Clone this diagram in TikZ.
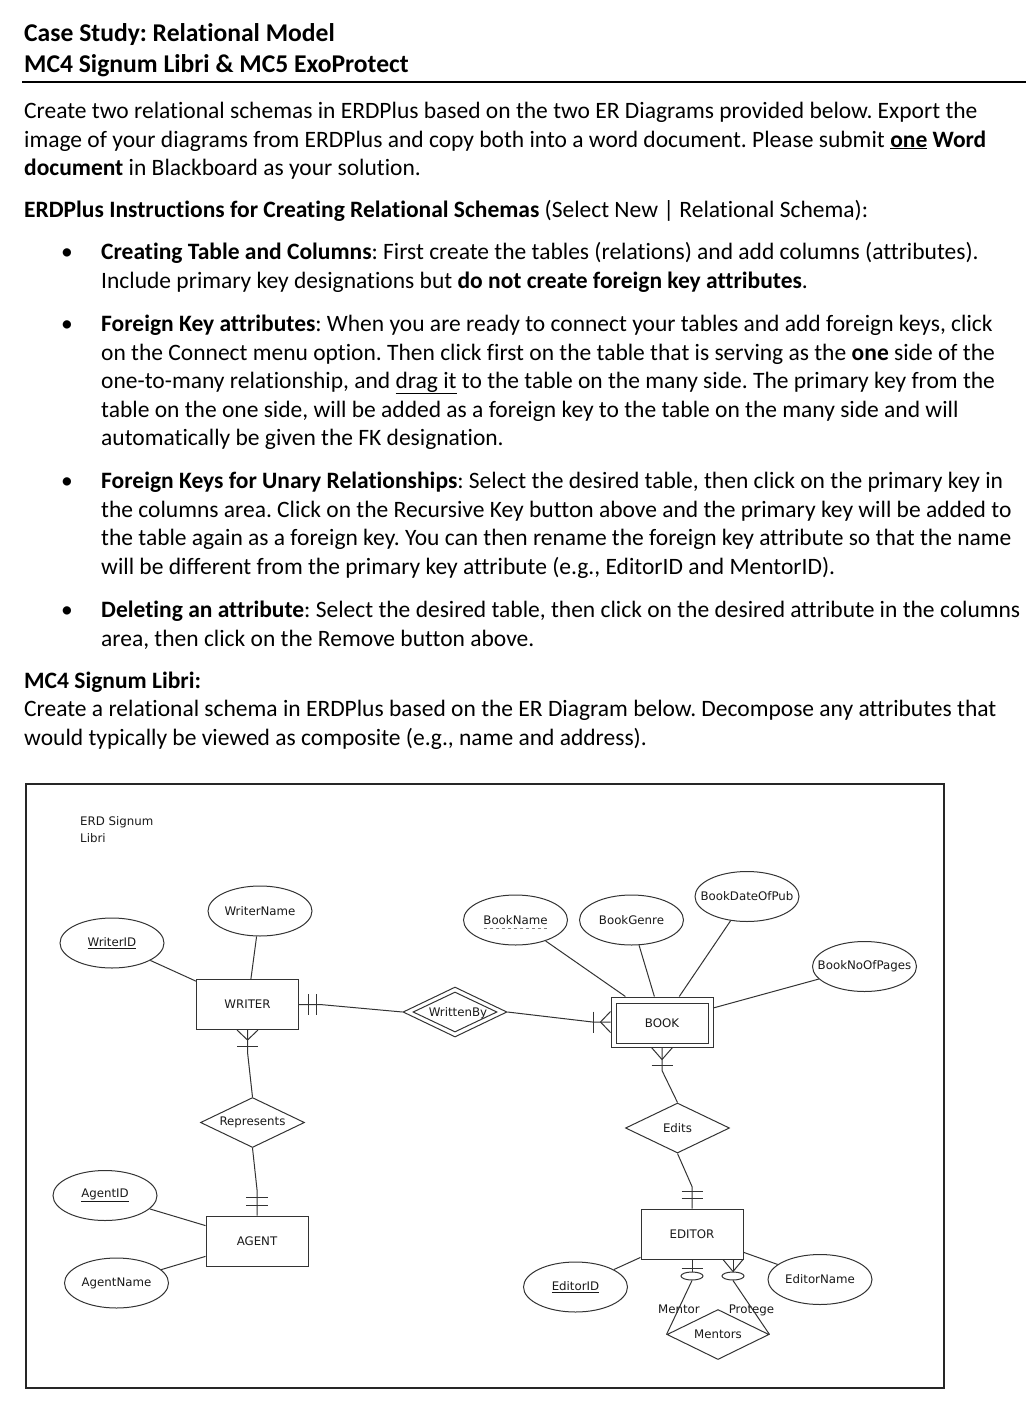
\documentclass[tikz,border=0pt]{standalone}
\usepackage{fontspec}
\setmainfont{Carlito}[Ligatures={NoCommon}]
\newfontfamily\erdfont{DejaVu Sans}
\usetikzlibrary{shapes.geometric,calc}
\colorlet{lc}{black!80}
\newcommand{\zw}[1]{\makebox[0pt][c]{#1}}
\frenchspacing
\begin{document}
\begin{tikzpicture}[x=1pt,y=-1pt,
 txt/.style={anchor=base west,inner sep=0pt,font=\fontsize{23.5}{28}\selectfont},
 ttl/.style={anchor=base west,inner sep=0pt,font=\fontsize{25.6}{30}\selectfont\bfseries},
 erdtxt/.style={font=\erdfont\fontsize{11.8}{14}\selectfont,text=black!90},
 attr/.style={erdtxt,draw=lc,ellipse,minimum width=104pt,minimum height=50pt,inner sep=0pt,line width=1pt},
 ent/.style={erdtxt,draw=lc,rectangle,minimum width=102pt,minimum height=50pt,inner sep=0pt,line width=1pt},
 rel/.style={erdtxt,draw=lc,diamond,aspect=2,minimum width=104pt,minimum height=50pt,inner sep=0pt,line width=1pt},
 conn/.style={draw=lc,line width=1pt},
 opt/.style={draw=lc,ellipse,minimum width=22pt,minimum height=8pt,inner sep=0pt,line width=1pt},
]
\useasboundingbox (0,0) rectangle (1034,1405);
% ---------- header text ----------
\node[ttl] (t1) at (24,42) {Case Study: Relational Model};
\node[ttl] (t2) at (24,73) {MC4 Signum Libri \& MC5 ExoProtect};
\draw[line width=2pt] (22,82) -- (1026,82);
\node[txt] (p1) at (24,118) {Create two relational schemas in ERDPlus based on the two ER Diagrams provided below. Export the};
\node[txt] (p2) at (24,147) {image of your diagrams from ERDPlus and copy both into a word document. Please submit \underline{\textbf{one}} \textbf{Word}};
\node[txt] (p3) at (24,175) {\textbf{document} in Blackboard as your solution.};
\node[txt] (h1) at (24,217) {\textbf{ERDPlus Instructions for Creating Relational Schemas} (Select New | Relational Schema):};
\node[txt] (bul1) at (61,259) {•};
\node[txt] (b1a) at (101,259) {\textbf{Creating Table and Columns}: First create the tables (relations) and add columns (attributes).};
\node[txt] (b1b) at (101,288) {Include primary key designations but \textbf{do not create foreign key attributes}.};
\node[txt] (bul2) at (61,331) {•};
\node[txt] (b2a) at (101,331) {\textbf{Foreign Key attributes}: When you are ready to connect your tables and add foreign keys, click};
\node[txt] (b2b) at (101,360) {on the Connect menu option. Then click first on the table that is serving as the \textbf{one} side of the};
\node[txt] (b2c) at (101,388) {one-to-many relationship, and \underline{drag it} to the table on the many side. The primary key from the};
\node[txt] (b2d) at (101,417) {table on the one side, will be added as a foreign key to the table on the many side and will};
\node[txt] (b2e) at (101,445) {automatically be given the FK designation.};
\node[txt] (bul3) at (61,488) {•};
\node[txt] (b3a) at (101,488) {\textbf{Foreign Keys for Unary Relationships}: Select the desired table, then click on the primary key in};
\node[txt] (b3b) at (101,517) {the columns area. Click on the Recursive Key button above and the primary key will be added to};
\node[txt] (b3c) at (101,545) {the table again as a foreign key. You can then rename the foreign key attribute so that the name};
\node[txt] (b3d) at (101,574) {will be different from the primary key attribute (e.g., EditorID and MentorID).};
\node[txt] (bul4) at (61,617) {•};
\node[txt] (b4a) at (101,617) {\textbf{Deleting an attribute}: Select the desired table, then click on the desired attribute in the columns};
\node[txt] (b4b) at (101,646) {area, then click on the Remove button above.};
\node[txt] (m1) at (24,688) {\textbf{MC4 Signum Libri:}};
\node[txt] (m2) at (24,716) {Create a relational schema in ERDPlus based on the ER Diagram below. Decompose any attributes that};
\node[txt] (m3) at (24,745) {would typically be viewed as composite (e.g., name and address).};
% ---------- diagram frame ----------
\draw[line width=1.5pt,black!85] (26,784) rectangle (944,1388);
\node[erdtxt,anchor=north west,align=left,inner sep=0pt,font=\erdfont\fontsize{11.8}{17}\selectfont] (erdlbl) at (80,816) {ERD Signum\\Libri};
% ---------- entities & attributes ----------
\node[attr] (writername) at (260,911) {\zw{WriterName}};
\node[attr] (writerid) at (112,943) {\zw{\underline{WriterID}}};
\node[ent] (writer) at (247.5,1004.5) {WRITER};
\node[attr] (bookname) at (515.5,920) {\zw{BookName}};
\node[attr] (bookgenre) at (631.5,920) {\zw{BookGenre}};
\node[attr] (bookdate) at (747,896.5) {\zw{BookDateOfPub}};
\node[attr] (bookpages) at (864.5,966.5) {\zw{BookNoOfPages}};
\node[rel] (writtenby) at (455,1012) {};
\node[draw=lc,diamond,aspect=2.1,minimum width=84pt,minimum height=40pt,inner sep=0pt,line width=1pt] (writtenbyin) at (455,1012) {};
\node[erdtxt,inner sep=0pt] (writtenbylbl) at (458,1013) {WrittenBy};
\node[draw=lc,minimum width=102pt,minimum height=50pt,inner sep=0pt,line width=1pt] (booko) at (662,1022) {};
\node[ent,minimum width=92pt,minimum height=40pt] (book) at (662,1023) {BOOK};
\node[rel] (represents) at (252.5,1122.5) {Represents};
\node[ent] (agent) at (257,1241) {AGENT};
\node[attr] (agentid) at (105,1195.5) {\zw{\underline{AgentID}}};
\node[attr] (agentname) at (116.5,1283) {\zw{AgentName}};
\node[rel] (edits) at (677.5,1128) {Edits};
\node[ent] (editor) at (692,1234) {EDITOR};
\node[attr] (editorid) at (575.5,1287) {\zw{\underline{EditorID}}};
\node[attr] (editorname) at (820,1279.5) {\zw{EditorName}};
\node[rel,minimum width=102pt] (mentors) at (718,1334.5) {Mentors};
\node[opt] (mc) at (692,1276) {};
\node[opt] (pc) at (733,1276) {};
\node[erdtxt,inner sep=0pt,anchor=base] (mentorlbl) at (679,1313) {Mentor};
\node[erdtxt,inner sep=0pt,anchor=base] (protegelbl) at (751.5,1313) {Protege};
% dashed underline of BookName
\draw[gray,dashed,line width=0.6pt] ($(bookname.center)+(-32,8)$) -- ++(65,0);
% ---------- attribute connectors ----------
\draw[conn] (writerid) -- (writer);
\draw[conn] (writername) -- (writer);
\draw[conn] (bookname) -- (booko);
\draw[conn] (bookgenre) -- (booko);
\draw[conn] (bookdate) -- (booko);
\draw[conn] (bookpages) -- (booko);
\draw[conn] (agentid) -- (agent);
\draw[conn] (agentname) -- (agent);
\draw[conn] (editorid) -- (editor);
\draw[conn] (editorname) -- (editor);
% ---------- WRITER -- WrittenBy ----------
\coordinate (w1) at ($(writer.east)+(21,0)$);
\draw[conn] (writer.east) -- (w1) -- (writtenby.west);
\draw[conn] ($(writer.east)+(9,-10.5)$) -- ++(0,21);
\draw[conn] ($(writer.east)+(17,-10.5)$) -- ++(0,21);
% ---------- WrittenBy -- BOOK ----------
\coordinate (b1) at ($(booko.west)+(-18,0)$);
\draw[conn] (writtenby.east) -- (b1) -- (booko.west);
\draw[conn] ($(booko.west)+(0,-10.5)$) -- ($(booko.west)+(-10,0)$) -- ($(booko.west)+(0,10.5)$);
\draw[conn] ($(booko.west)+(-17,-10.5)$) -- ++(0,21);
% ---------- WRITER -- Represents ----------
\coordinate (w2) at ($(writer.south)+(0,22)$);
\draw[conn] (writer.south) -- (w2) -- (represents.north);
\draw[conn] ($(writer.south)+(-10.5,0)$) -- ($(writer.south)+(0,10)$) -- ($(writer.south)+(10.5,0)$);
\draw[conn] ($(writer.south)+(-10.5,16)$) -- ++(21,0);
% ---------- Represents -- AGENT ----------
\coordinate (a1) at ($(agent.north)+(0,-26)$);
\draw[conn] (represents.south) -- (a1) -- (agent.north);
\draw[conn] ($(agent.north)+(-11,-18)$) -- ++(22,0);
\draw[conn] ($(agent.north)+(-11,-10)$) -- ++(22,0);
% ---------- BOOK -- Edits ----------
\coordinate (b2) at ($(booko.south)+(0,23)$);
\draw[conn] (booko.south) -- (b2) -- (edits.north);
\draw[conn] ($(booko.south)+(-10.5,0)$) -- ($(booko.south)+(0,12)$) -- ($(booko.south)+(10.5,0)$);
\draw[conn] ($(booko.south)+(-10.5,18)$) -- ++(21,0);
% ---------- Edits -- EDITOR ----------
\coordinate (e1) at ($(editor.north)+(0,-22)$);
\draw[conn] (edits.south) -- (e1) -- (editor.north);
\draw[conn] ($(editor.north)+(-10.5,-17)$) -- ++(21,0);
\draw[conn] ($(editor.north)+(-10.5,-10)$) -- ++(21,0);
% ---------- EDITOR -- Mentors (unary) ----------
\draw[conn] (editor.south) -- (mc.north);
\draw[conn] ($(editor.south)+(-10.5,9)$) -- ++(21,0);
\draw[conn] (mc.south) -- (mentors.west);
\coordinate (ep) at ($(editor.south)+(41,0)$);
\draw[conn] (ep) -- (pc.north);
\draw[conn] ($(ep)+(-10,0)$) -- (pc.north) -- ($(ep)+(10,0)$);
\draw[conn] (pc.south) -- (mentors.east);
\end{tikzpicture}
\end{document}
